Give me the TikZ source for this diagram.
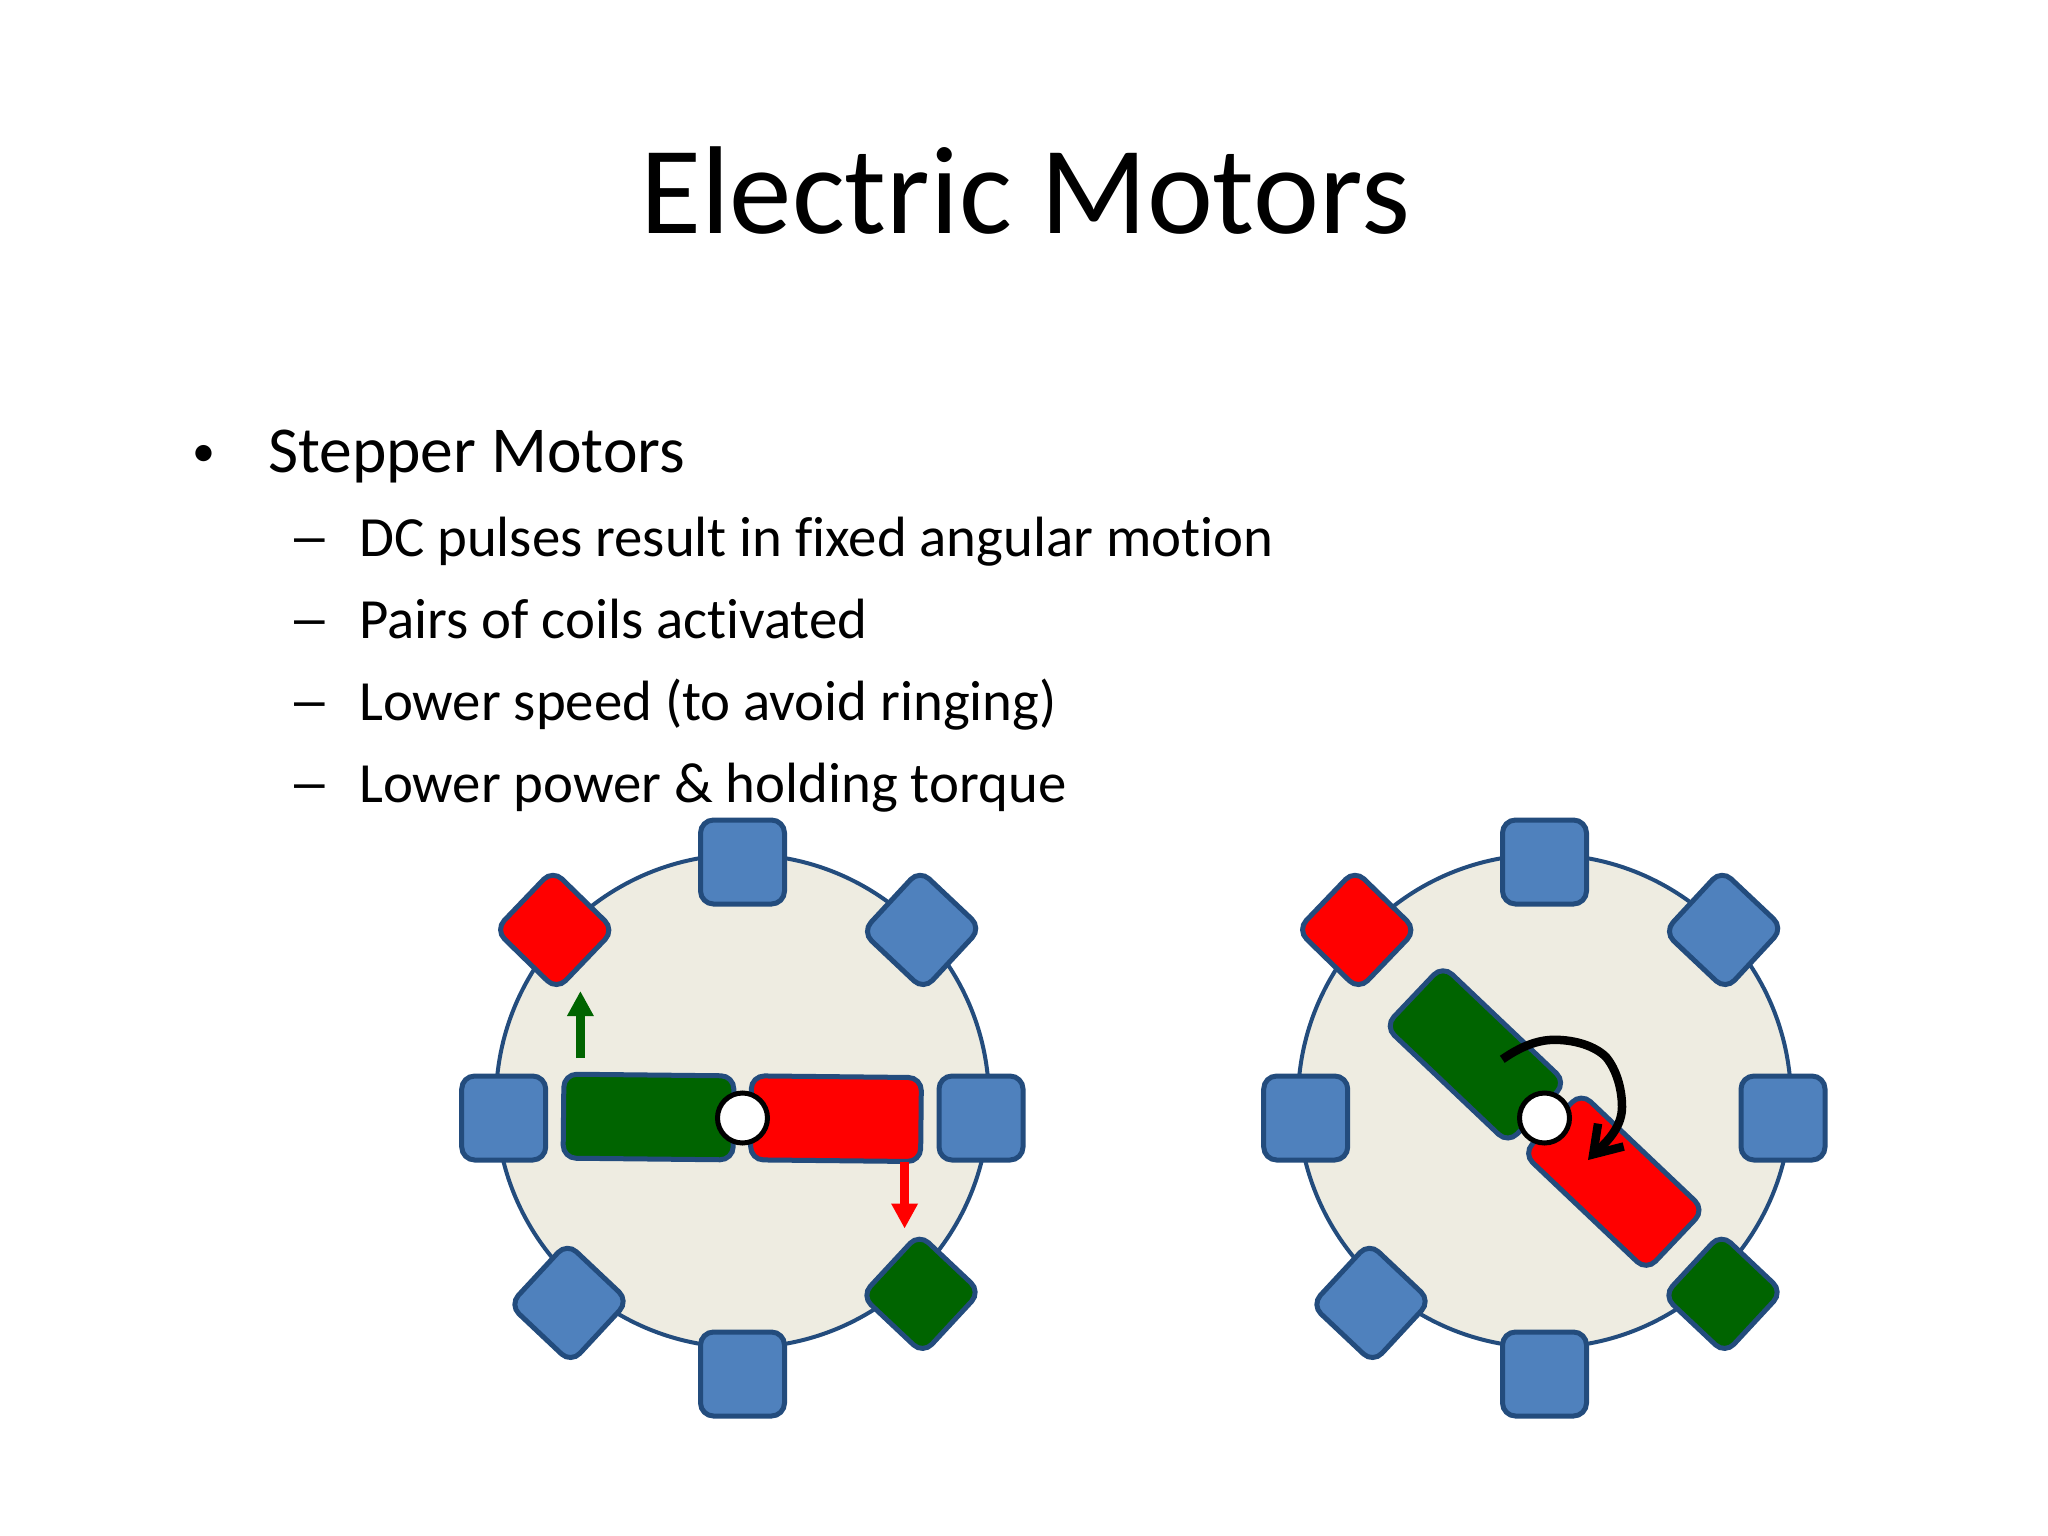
\documentclass[tikz,border=0pt]{standalone}
\usepackage{fontspec}
\setmainfont{Carlito}[Ligatures={NoCommon}]
\usetikzlibrary{arrows.meta}
\definecolor{gearblue}{HTML}{4F81BD}
\definecolor{edgeblue}{HTML}{234C7D}
\definecolor{stator}{HTML}{EEECE1}
\definecolor{dgreen}{HTML}{006400}
\definecolor{pure}{HTML}{FF0000}
\tikzset{
  x=1pt,y=-1pt,
  slide/.style={anchor=base west,inner sep=0pt,text=black},
  titletext/.style={anchor=base,inner sep=0pt,text=black,font=\fontsize{125}{130}\selectfont},
  lvlone/.style={slide,font=\fontsize{65.5}{70}\selectfont},
  lvltwo/.style={slide,font=\fontsize{56.8}{64}\selectfont},
  dashmark/.style={anchor=base west,inner sep=0pt,text=black,font=\fontsize{57}{64}\selectfont,xscale=1.5},
  bulletmark/.style={anchor=base west,inner sep=0pt,text=black,font=\fontsize{46}{50}\selectfont},
  statorc/.style={circle,draw=edgeblue,fill=stator,line width=4pt,minimum size=493pt,inner sep=0pt},
  pole/.style={draw=edgeblue,line width=5pt,rounded corners=13pt,minimum width=84pt,minimum height=84pt,inner sep=0pt,fill=#1},
  rotorbar/.style={draw=edgeblue,line width=5pt,rounded corners=13pt,minimum width=170pt,minimum height=84pt,inner sep=0pt,fill=#1},
  hub/.style={circle,draw=black,fill=white,line width=5pt,minimum size=50pt,inner sep=0pt},
  diag/.style={draw=edgeblue,line width=5pt,rounded corners=13pt,fill=#1},
  fieldarrow/.style={line width=9pt,draw=#1,-{Triangle[length=25pt,width=25pt]}},
  turn/.style={draw=black,line width=8.5pt}
}
\newcommand{\gearpole}[4]{% x y colour skew
  \path[diag=#3] (#1-59.5,#2+#4) -- (#1-2,#2-60) -- (#1+59.5,#2-#4) -- (#1+2,#2+60) -- cycle;}
\newcommand{\motorframe}[2]{% offset, prefix
  \node[statorc] (#2c) at (742.5+#1,1101) {};
}
\newcommand{\motorpoles}[2]{%
  \node[pole=gearblue] (#2n) at (742.5+#1,862) {};
  \node[pole=gearblue] (#2s) at (742.5+#1,1374) {};
  \node[pole=gearblue] (#2w) at (503.7+#1,1118) {};
  \node[pole=gearblue] (#2e) at (981+#1,1118) {};
  \gearpole{554.7+#1}{929.9}{pure}{0}
  \gearpole{921.6+#1}{929.9}{gearblue}{2}
  \gearpole{569+#1}{1302.9}{gearblue}{2}
  \gearpole{921+#1}{1293.8}{dgreen}{2}
}
\begin{document}
\begin{tikzpicture}
\useasboundingbox (0,0) rectangle (2048,1536);
\fill[white] (0,0) rectangle (2048,1536);
\node[titletext] (title) at (1025,233) {Electric Motors};
\node[bulletmark] (b0) at (192,466) {•};
\node[lvlone] (t0) at (268,472) {Stepper Motors};
\node[dashmark] (d1) at (288,556) {–};
\node[dashmark] (d2) at (288,638) {–};
\node[dashmark] (d3) at (288,720) {–};
\node[dashmark] (d4) at (288,802) {–};
\node[lvltwo] (t1) at (359,556) {DC pulses result in fixed angular motion};
\node[lvltwo] (t2) at (359,638) {Pairs of coils activated};
\node[lvltwo] (t3) at (359,720) {Lower speed (to avoid ringing)};
\node[lvltwo] (t4) at (359,802) {Lower power \& holding torque};
% left motor
\motorframe{0}{L}
\motorpoles{0}{L}
\node[rotorbar=dgreen,rotate=-0.6] (Lg) at (648.5,1117) {};
\node[rotorbar=pure,rotate=-0.6] (Lr) at (836,1118.7) {};
\node[hub] (Lh) at (742.5,1118) {};
\coordinate (ga) at (580.4,1058);
\coordinate (gb) at (580.4,991);
\coordinate (ra) at (904.6,1161.8);
\coordinate (rb) at (904.6,1228.6);
\draw[fieldarrow=dgreen] (ga) -- (gb);
\draw[fieldarrow=pure] (ra) -- (rb);
% right motor
\motorframe{802}{R}
\motorpoles{802}{R}
\node[rotorbar=dgreen,rotate=-43.5] (Rg) at (1475.4,1054.4) {};
\node[rotorbar=pure,rotate=-43.5] (Rr) at (1613.8,1181.7) {};
\node[hub] (Rh) at (1544.5,1118) {};
\coordinate (a0) at (1502.3,1059.3);
\coordinate (a1) at (1554.5,1039.8);
\coordinate (a2) at (1606,1057);
\coordinate (a3) at (1622,1107);
\coordinate (a4) at (1593.2,1154.3);
\coordinate (bl) at (1598,1123.6);
\coordinate (br) at (1623.7,1146.5);
\path[turn] (a0) .. controls (1520,1047) and (1537,1039.8) .. (a1)
  .. controls (1575,1039.8) and (1595,1046) .. (a2)
  .. controls (1616,1069) and (1622,1088) .. (a3)
  .. controls (1622,1125) and (1610,1140) .. (a4);
\path[turn,miter limit=10] (bl) -- (a4) -- (br);
\end{tikzpicture}
\end{document}
